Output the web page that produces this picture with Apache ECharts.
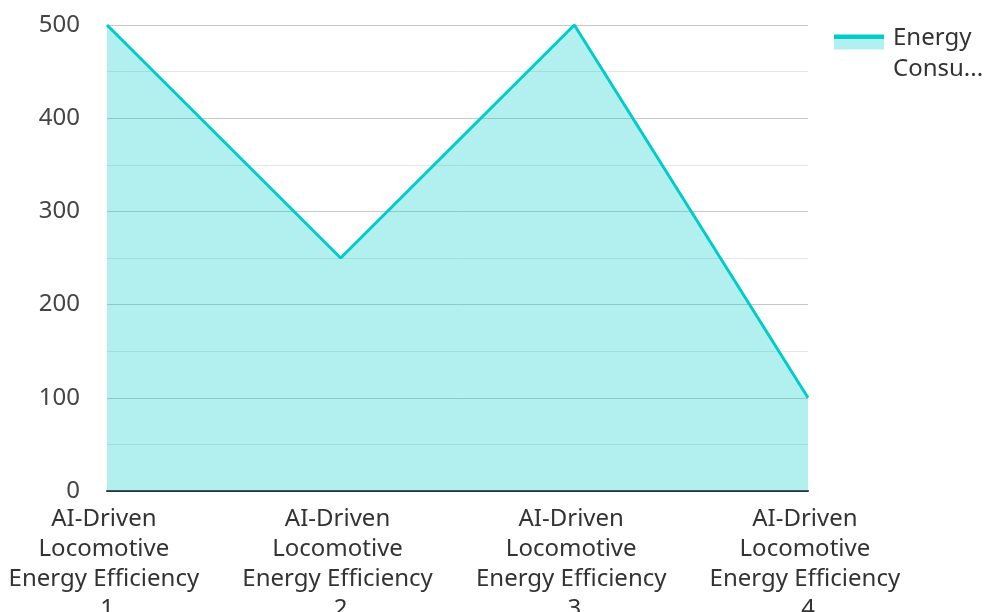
<!DOCTYPE html>
<html>
<head>
<meta charset="utf-8">
<style>
  html, body { margin: 0; padding: 0; background: #fff; }
  #chart { width: 988px; height: 612px; }
</style>
<script src="https://cdn.jsdelivr.net/npm/echarts@6/dist/echarts.min.js"></script>
</head>
<body>
<div id="chart"></div>
<script>
const categories = [
  'AI-Driven Locomotive Energy Efficiency 1',
  'AI-Driven Locomotive Energy Efficiency 2',
  'AI-Driven Locomotive Energy Efficiency 3',
  'AI-Driven Locomotive Energy Efficiency 4'
];
const seriesName = 'Energy Consumption';
const energyValues = [500, 250, 500, 100];

const FONT = 'Noto Sans';
const LINE_COLOR = '#00cccc';

// Legend text: wrap onto two lines, the second one cut short with an ellipsis.
// A small spacer line on top keeps the first line level with the swatch.
function legendLabel(name) {
  const words = name.split(' ');
  const first = words.shift();
  const rest = echarts.format.truncateText(words.join(' '), 100, '24px ' + FONT, '...');
  return '{s| }\n{t|' + first + '}\n{t|' + rest + '}';
}

const chart = echarts.init(document.getElementById('chart'));
chart.setOption({
  animation: false,
  textStyle: { fontFamily: FONT },
  grid: { left: 107, right: 180, top: 25, bottom: 121, containLabel: false, outerBoundsMode: 'none' },
  legend: {
    left: 834,
    top: 6,
    padding: 0,
    orient: 'vertical',
    icon: 'rect',
    itemWidth: 50,
    itemHeight: 15,
    formatter: legendLabel,
    itemStyle: {
      // thin line stroke on top of the pale area swatch
      color: new echarts.graphic.LinearGradient(0, 0, 0, 1, [
        { offset: 0, color: LINE_COLOR },
        { offset: 0.27, color: LINE_COLOR },
        { offset: 0.27, color: 'rgba(0,204,204,0.3)' },
        { offset: 1, color: 'rgba(0,204,204,0.3)' }
      ])
    },
    textStyle: {
      fontSize: 24,
      color: '#333',
      padding: [0, 0, 0, 4],
      rich: {
        s: { fontSize: 10, lineHeight: 23 },
        t: { fontSize: 24, color: '#333', lineHeight: 31 }
      }
    },
    data: [seriesName]
  },
  xAxis: {
    type: 'category',
    data: categories,
    boundaryGap: false,
    axisLine: { lineStyle: { color: '#333', width: 2 } },
    axisTick: { show: false },
    axisLabel: {
      interval: 0,
      fontSize: 24,
      color: '#333',
      width: 205,
      overflow: 'break',
      lineHeight: 30,
      margin: 13
    }
  },
  yAxis: {
    type: 'value',
    min: 0,
    max: 500,
    interval: 100,
    axisLine: { show: false },
    axisTick: { show: false },
    axisLabel: { fontSize: 24, color: '#444', margin: 27 },
    splitLine: { lineStyle: { color: '#c8c8c8', width: 1 } },
    minorTick: { show: false, splitNumber: 2 },
    minorSplitLine: { show: true, lineStyle: { color: '#e6e6e6', width: 1 } }
  },
  series: [{
    name: seriesName,
    type: 'line',
    data: energyValues,
    symbol: 'none',
    lineStyle: { color: LINE_COLOR, width: 3 },
    itemStyle: { color: LINE_COLOR },
    areaStyle: { color: LINE_COLOR, opacity: 0.3 }
  }]
});
</script>
</body>
</html>
